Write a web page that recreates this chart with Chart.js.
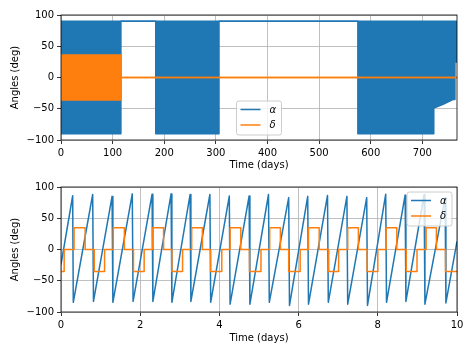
<!DOCTYPE html>
<html><head><meta charset="utf-8">
<script src="https://cdn.jsdelivr.net/npm/chart.js@4.4.1/dist/chart.umd.min.js"></script>
<style>
html,body{margin:0;padding:0;background:#fff;}
#wrap{position:relative;width:474px;height:355px;overflow:hidden;}
canvas{position:absolute;left:0;}
#c1{top:0;}
#c2{top:177px;}
</style></head><body>
<div id="wrap"><canvas id="c1" width="474" height="177"></canvas><canvas id="c2" width="474" height="178"></canvas></div>
<script>
// ---------- data ----------
const seriesNames = ['α', 'δ'];
const seriesColors = ['#1f77b4', '#ff7f0e'];
const yTickValues = [-100, -50, 0, 50, 100];
const yTickLabels = ['\u2212100', '\u221250', '0', '50', '100'];
const topXTickValues = [0, 100, 200, 300, 400, 500, 600, 700];
const topXTickLabels = ['0', '100', '200', '300', '400', '500', '600', '700'];
const bottomXTickValues = [0, 2, 4, 6, 8, 10];
const bottomXTickLabels = ['0', '2', '4', '6', '8', '10'];
const topXMax = 767;
const bottomXMax = 10;

// top panel: envelopes of the densely oscillating series
const topAlphaUpperTime = [0, 767];
const topAlphaUpperValue = [90, 90];
const topAlphaLowerTime = [0, 116, 116, 183.5, 183.5, 306, 306, 575, 575, 722, 722, 740, 760, 763, 763, 767];
const topAlphaLowerValue = [-90, -90, 90, 90, -90, -90, 90, 90, -90, -90, -49, -43, -35, -35, 25, 25];
const topDeltaTime = [0, 116, 116, 767];
const topDeltaUpperValue = [36, 36, 0, 0];
const topDeltaLowerValue = [-36, -36, 0, 0];

// bottom panel: first 10 days
const bottomAlphaTime = [0, 0.295, 0.31, 0.80, 0.82, 1.29, 1.31, 1.80, 1.82, 2.30, 2.32, 2.78, 2.80, 3.26, 3.28, 3.76, 3.78, 4.25, 4.27, 4.75, 4.77, 5.24, 5.26, 5.75, 5.77, 6.23, 6.25, 6.73, 6.75, 7.22, 7.24, 7.72, 7.74, 8.20, 8.22, 8.69, 8.71, 9.17, 9.19, 9.70, 9.72, 10];
const bottomAlphaValue = [-24, 86, -84.5, 88, -83, 85, -84.5, 89, -83, 88.5, -83, 89, -84.5, 88, -83, 88, -84.5, 85.5, -87.5, 85.5, -87.5, 88, -84.5, 83, -89.5, 85, -87.5, 86.5, -84.5, 85, -87.5, 83, -89.5, 88.5, -84.5, 87, -83, 88, -87.5, 83, -85.5, 13];
const bottomDeltaTime = [0, 0.08, 0.33, 0.61, 0.84, 1.10, 1.32, 1.60, 1.83, 2.10, 2.31, 2.59, 2.80, 3.07, 3.30, 3.57, 3.78, 4.06, 4.27, 4.54, 4.76, 5.05, 5.27, 5.54, 5.75, 6.04, 6.25, 6.52, 6.76, 7.01, 7.24, 7.51, 7.73, 8.00, 8.21, 8.48, 8.72, 8.99, 9.22, 9.48, 9.71, 10];
const bottomDeltaValue = [-35, 0, 35, 0, -35, 0, 35, 0, -35, 0, 35, 0, -35, 0, 35, 0, -35, 0, 35, 0, -35, 0, 35, 0, -35, 0, 35, 0, -35, 0, 35, 0, -35, 0, 35, 0, -35, 0, 35, 0, -35, -35];

// ---------- helpers ----------
const pts = (xs, ys) => xs.map((x, i) => ({x: x, y: ys[i]}));
const FONT = {family: '"DejaVu Sans", sans-serif', size: 10};

function framePlugin(legendMode) {
  return {
    id: 'frameLegend',
    afterDatasetsDraw(chart) {
      const a = chart.chartArea, ctx = chart.ctx;
      ctx.save();
      ctx.strokeStyle = '#000';
      ctx.lineWidth = 0.8;
      ctx.strokeRect(a.left, a.top, a.right - a.left, a.bottom - a.top);
      // legend
      const lw = 45, lh = 34;
      let bx, by;
      if (legendMode === 'lower center') {
        bx = (a.left + a.right) / 2 - lw / 2;
        by = a.bottom - 5 - lh;
      } else {
        bx = a.right - 5 - lw;
        by = a.top + 5;
      }
      ctx.beginPath();
      if (ctx.roundRect) ctx.roundRect(bx, by, lw, lh, 2.5); else ctx.rect(bx, by, lw, lh);
      ctx.fillStyle = 'rgba(255,255,255,0.8)';
      ctx.fill();
      ctx.strokeStyle = '#cccccc';
      ctx.lineWidth = 1;
      ctx.stroke();
      ctx.font = 'italic 10px "DejaVu Sans", sans-serif';
      ctx.textBaseline = 'middle';
      ctx.textAlign = 'left';
      for (let i = 0; i < seriesNames.length; i++) {
        const y = by + 8.5 + i * 15.5;
        ctx.beginPath();
        ctx.moveTo(bx + 4, y);
        ctx.lineTo(bx + 24, y);
        ctx.strokeStyle = seriesColors[i];
        ctx.lineWidth = 1.5;
        ctx.stroke();
        ctx.fillStyle = '#000';
        ctx.fillText(seriesNames[i], bx + 33, y + 0.5);
      }
      ctx.restore();
    }
  };
}

function makeOptions(xMax, xVals, xLabels, xAxisHeight, titlePadBottom, padTop) {
  return {
    responsive: false,
    animation: false,
    devicePixelRatio: 1,
    layout: {padding: {top: padTop, right: 17, left: 0, bottom: 0}},
    plugins: {legend: {display: false}, tooltip: {enabled: false}},
    elements: {point: {radius: 0}, line: {tension: 0, borderJoinStyle: 'round'}},
    scales: {
      x: {
        type: 'linear', min: 0, max: xMax,
        afterBuildTicks: s => { s.ticks = xVals.map(v => ({value: v})); },
        afterFit: s => { s.height = xAxisHeight; },
        ticks: {autoSkip: false, maxRotation: 0, color: '#000', font: FONT, padding: 3,
                callback: (v, i) => xLabels[i]},
        grid: {color: '#b0b0b0', lineWidth: 0.8, tickLength: 4, tickColor: '#000', tickWidth: 0.8},
        border: {display: false},
        title: {display: true, text: 'Time (days)', color: '#000', font: FONT, padding: {top: 0, bottom: titlePadBottom}}
      },
      y: {
        type: 'linear', min: -100, max: 100,
        afterBuildTicks: s => { s.ticks = yTickValues.map(v => ({value: v})); },
        afterFit: s => { s.width = 61; },
        ticks: {autoSkip: false, color: '#000', font: FONT, padding: 3,
                callback: (v, i) => yTickLabels[i]},
        grid: {color: '#b0b0b0', lineWidth: 0.8, tickLength: 4, tickColor: '#000', tickWidth: 0.8},
        border: {display: false},
        title: {display: true, text: 'Angles (deg)', color: '#000', font: FONT, padding: {top: 9, bottom: 0}}
      }
    }
  };
}

// ---------- top chart ----------
new Chart(document.getElementById('c1'), {
  type: 'line',
  data: {
    datasets: [
      {label: seriesNames[1] + ' upper', data: pts(topDeltaTime, topDeltaUpperValue), borderColor: seriesColors[1], borderWidth: 1.5, fill: false, order: 0},
      {label: seriesNames[1] + ' lower', data: pts(topDeltaTime, topDeltaLowerValue), borderColor: seriesColors[1], backgroundColor: seriesColors[1], borderWidth: 1.5, fill: 0, order: 0},
      {label: seriesNames[0] + ' upper', data: pts(topAlphaUpperTime, topAlphaUpperValue), borderColor: seriesColors[0], borderWidth: 1.5, fill: false, order: 1},
      {label: seriesNames[0] + ' lower', data: pts(topAlphaLowerTime, topAlphaLowerValue), borderColor: seriesColors[0], backgroundColor: seriesColors[0], borderWidth: 1.5, fill: 2, order: 1}
    ]
  },
  options: makeOptions(topXMax, topXTickValues, topXTickLabels, 37, 6, 15),
  plugins: [framePlugin('lower center')]
});

// ---------- bottom chart ----------
new Chart(document.getElementById('c2'), {
  type: 'line',
  data: {
    datasets: [
      {label: seriesNames[1], data: pts(bottomDeltaTime, bottomDeltaValue), borderColor: seriesColors[1], borderWidth: 1.5, stepped: 'before', fill: false, order: 0},
      {label: seriesNames[0], data: pts(bottomAlphaTime, bottomAlphaValue), borderColor: seriesColors[0], borderWidth: 1.5, fill: false, order: 1}
    ]
  },
  options: makeOptions(bottomXMax, bottomXTickValues, bottomXTickLabels, 43, 11, 10),
  plugins: [framePlugin('upper right')]
});
</script>
</body></html>
